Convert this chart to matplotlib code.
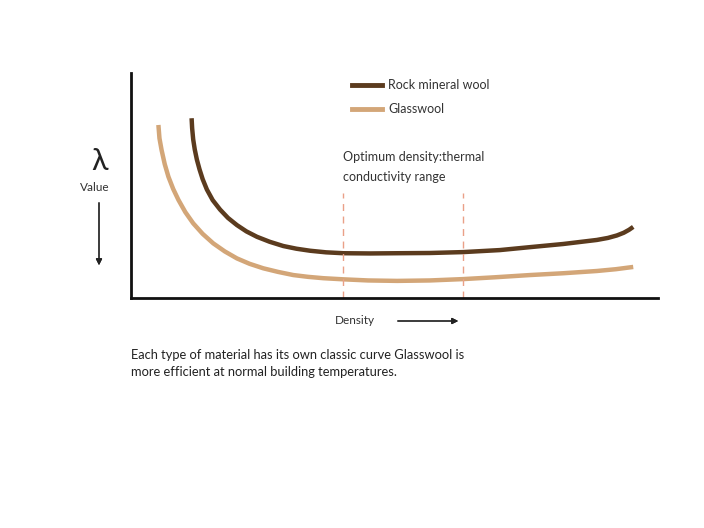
import matplotlib
matplotlib.use("Agg")
import matplotlib.pyplot as plt

plt.rcParams['font.family'] = ['Lato', 'DejaVu Sans']

# curves (x = density, y = lambda, both arbitrary units 0-100)
rock_x = [11.5, 11.6, 11.8, 12.1, 12.5, 13.0, 13.6, 14.4, 15.5, 16.9, 18.4,
          20.1, 21.9, 23.9, 26.3, 28.9, 31.4, 34.0, 37.0, 40.3, 45.4, 50.5,
          56.7, 63.0, 70.0, 75.7, 82.0, 88.4, 90.5, 92.2, 93.5, 94.5, 95.3]
rock_y = [79.9, 75.5, 70.5, 66.0, 61.5, 57.2, 52.8, 48.2, 43.5, 39.3, 35.6,
          32.4, 29.6, 27.2, 25.0, 23.1, 21.9, 21.0, 20.3, 19.9, 19.8, 19.9,
          20.0, 20.4, 21.3, 22.6, 24.0, 25.8, 26.7, 27.8, 29.0, 30.3, 31.6]
glass_x = [5.2, 5.4, 5.8, 6.4, 7.1, 8.0, 9.0, 10.3, 11.8, 13.6, 15.6, 17.8,
           20.1, 22.5, 25.1, 27.9, 30.8, 33.6, 36.5, 40.3, 45.0, 50.5, 56.7,
           63.0, 69.0, 75.7, 82.0, 88.4, 92.0, 95.3]
glass_y = [76.9, 71.0, 65.8, 59.5, 53.9, 48.5, 43.6, 38.2, 33.2, 28.5, 24.3,
           20.7, 17.6, 15.2, 13.2, 11.6, 10.2, 9.4, 8.8, 8.3, 7.8, 7.6, 7.8,
           8.4, 9.2, 10.2, 11.0, 12.0, 12.8, 13.8]
optimum_range = [40.2, 63.0]
optimum_top = 46.7

dark = '#5b3b1e'
light = '#d3a678'
W, H = 704, 528

fig = plt.figure(figsize=(7.04, 5.28), dpi=100)
ax = fig.add_axes([131/W, 1-298/H, 527/W, 225/H])
ax.plot(rock_x, rock_y, color=dark, lw=3.2, solid_capstyle='butt', solid_joinstyle='round')
ax.plot(glass_x, glass_y, color=light, lw=3.2, solid_capstyle='butt', solid_joinstyle='round')
for xv in optimum_range:
    ax.plot([xv, xv], [0, optimum_top], color='#eaa088', lw=1, ls=(0, (5, 4)))
ax.set_xlim(0, 100)
ax.set_ylim(0, 100)
ax.set_xticks([])
ax.set_yticks([])
for s in ['top', 'right']:
    ax.spines[s].set_visible(False)
for s in ['left', 'bottom']:
    ax.spines[s].set_linewidth(2)
    ax.spines[s].set_color('#111111')


def px(x, y):
    return x / W, 1 - y / H


# legend drawn by hand
for yy, c, lab in [(85, dark, 'Rock mineral wool'), (109, light, 'Glasswool')]:
    fig.add_artist(plt.Line2D([352/W, 382/W], [1-yy/H, 1-yy/H], color=c, lw=3.5))
    fig.text(*px(388, yy), lab, fontsize=9, va='center', ha='left', color='#333333')

fig.text(*px(343, 157), 'Optimum density:thermal', fontsize=9, va='center', color='#333333')
fig.text(*px(343, 177), 'conductivity range', fontsize=9, va='center', color='#333333')

fig.text(*px(100, 161), 'λ', fontsize=22, ha='center', va='center', color='#222222')
fig.text(*px(95, 187), 'Value', fontsize=8.5, ha='center', va='center', color='#333333')
fig.add_artist(plt.annotate('', xy=px(99, 268), xytext=px(99, 200), xycoords='figure fraction',
                            arrowprops=dict(arrowstyle='-|>', color='#222222', lw=0.9,
                                            mutation_scale=9)))

fig.text(*px(355, 321), 'Density', fontsize=8.5, ha='center', va='center', color='#333333')
fig.add_artist(plt.annotate('', xy=px(461, 321), xytext=px(395, 321), xycoords='figure fraction',
                            arrowprops=dict(arrowstyle='-|>', color='#222222', lw=0.9,
                                            mutation_scale=9)))

fig.text(*px(131, 355), 'Each type of material has its own classic curve Glasswool is',
         fontsize=9.3, va='center', color='#222222')
fig.text(*px(131, 372), 'more efficient at normal building temperatures.',
         fontsize=9.3, va='center', color='#222222')

fig.savefig('out.png', dpi=100)
